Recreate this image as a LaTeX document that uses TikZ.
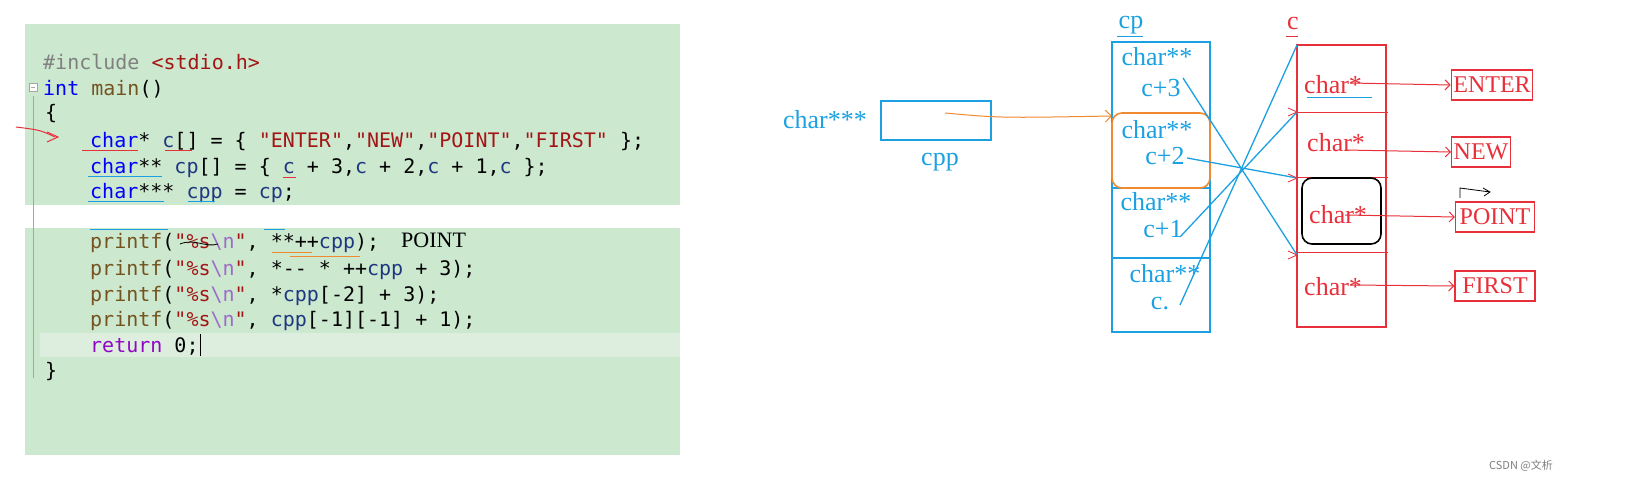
\documentclass[tikz,border=0pt]{standalone}
\usetikzlibrary{arrows.meta,calc}
\usepackage{fontspec}
\newfontfamily\code{DejaVu Sans Mono}
\newfontfamily\hand{Liberation Serif}
\newfontfamily\cjk{Noto Sans CJK SC}
\definecolor{gbg}{HTML}{CCE8CF}
\definecolor{ghl}{HTML}{DDEEDF}
\definecolor{kw}{HTML}{0000FF}
\definecolor{str}{HTML}{A31515}
\definecolor{idn}{HTML}{1F377F}
\definecolor{fn}{HTML}{74531F}
\definecolor{pp}{HTML}{808080}
\definecolor{esc}{HTML}{9E6BC9}
\definecolor{ret}{HTML}{8F08C4}
\definecolor{bl}{HTML}{1BA1E2}
\definecolor{rd}{HTML}{E8303A}
\definecolor{og}{HTML}{F08A30}
\begin{document}
\begin{tikzpicture}[x=1pt,y=-1pt,
  cl/.style={anchor=base west,inner sep=0pt,font=\code\fontsize{20}{20}\selectfont},
  hb/.style={inner sep=0pt,text=bl,font=\hand\fontsize{26}{26}\selectfont},
  hr/.style={inner sep=0pt,text=rd,font=\hand\fontsize{26}{26}\selectfont},
  bline/.style={draw=bl,line width=1.6pt},
  rline/.style={draw=rd,line width=1.2pt},
  wbox/.style={draw=rd,line width=1.3pt,inner sep=2pt,minimum height=30pt,text=rd,font=\hand\fontsize{24}{24}\selectfont},
  rarr/.style={draw=rd,line width=1pt,-{Straight Barb[length=5pt]}}]
\useasboundingbox (0,0) rectangle (1627,497);
\fill[white] (0,0) rectangle (1627,497);
% code panel
\fill[gbg] (25,24) rectangle (680,205);
\fill[gbg] (25,228) rectangle (680,455);
\fill[ghl] (40,333) rectangle (680,357);
\draw[gray!70] (33,96) -- (33,378);
\draw[gray!70,fill=white] (29,83) rectangle (37,91);
\draw[gray!70] (31,87) -- (35,87);
\node[cl] (l1) at (43,70) {\textcolor{pp}{\#include} \textcolor{str}{<stdio.h>}};
\node[cl] (l2) at (43,96) {\textcolor{kw}{int} \textcolor{fn}{main}()};
\node[cl] (l3) at (45,120) {\{};
\node[cl] (l4) at (90,148) {\textcolor{kw}{char}* \textcolor{idn}{c}[] = \{ \textcolor{str}{"ENTER"},\textcolor{str}{"NEW"},\textcolor{str}{"POINT"},\textcolor{str}{"FIRST"} \};};
\node[cl] (l5) at (90,174) {\textcolor{kw}{char}** \textcolor{idn}{cp}[] = \{ \textcolor{idn}{c} + 3,\textcolor{idn}{c} + 2,\textcolor{idn}{c} + 1,\textcolor{idn}{c} \};};
\node[cl] (l6) at (90,199) {\textcolor{kw}{char}*** \textcolor{idn}{cpp} = \textcolor{idn}{cp};};
\node[cl] (l7) at (90,248) {\textcolor{fn}{printf}(\textcolor{str}{"\%s}\textcolor{esc}{\textbackslash n}\textcolor{str}{"}, **++\textcolor{idn}{cpp});};
\node[cl] (l8) at (90,275) {\textcolor{fn}{printf}(\textcolor{str}{"\%s}\textcolor{esc}{\textbackslash n}\textcolor{str}{"}, *-- * ++\textcolor{idn}{cpp} + 3);};
\node[cl] (l9) at (90,301) {\textcolor{fn}{printf}(\textcolor{str}{"\%s}\textcolor{esc}{\textbackslash n}\textcolor{str}{"}, *\textcolor{idn}{cpp}[-2] + 3);};
\node[cl] (l10) at (90,326) {\textcolor{fn}{printf}(\textcolor{str}{"\%s}\textcolor{esc}{\textbackslash n}\textcolor{str}{"}, \textcolor{idn}{cpp}[-1][-1] + 1);};
\node[cl] (l11) at (90,352) {\textcolor{ret}{return} 0;};
\draw (200,334) -- (200,356);
\node[cl] (l12) at (45,377) {\}};
\node[anchor=base west,inner sep=0pt,font=\hand\fontsize{22}{22}\selectfont] (pt) at (401,247) {POINT};
% annotations on code
\draw[rd,line width=1pt] (82,151) -- (138,151) (165,151) -- (192,151);
\draw[rd,line width=1pt] (16,127) .. controls (40,130) .. (55,137);
\draw[rd,line width=1pt] (47,132) -- (58,137) -- (47,142);
\draw[bl,line width=1pt] (88,177) -- (162,177) (88,202) -- (164,202) (188,202) -- (215,202);
\draw[rd,line width=1pt] (283,178) -- (296,178);
\draw[og,line width=1pt] (272,252) -- (312,252) (290,256) -- (360,256);
\draw[bl,line width=1pt] (90,229) -- (168,229) (264,229) -- (285,229);
\draw[line width=0.8pt] (180,244) .. controls (195,238) and (205,248) .. (218,244);
% cpp
\node[hb] (t3) at (825,120) {char***};
\node[draw=bl,line width=1.4pt,minimum width=110pt,minimum height=39pt,inner sep=0pt] (cppbox) at (936,120.5) {};
\node[hb] (cppl) at (940,162) {cpp};
\coordinate (cs) at (945,113);
\coordinate (ce) at (1112,116);
\draw[og,line width=1pt,-{Straight Barb[length=6pt]}] (cs) .. controls (1000,118) .. (ce);
% cp column
\node[hb] (cpl) at (1131,25) {cp};
\draw[bl,line width=1pt] (1117,37) -- (1143,37);
\draw[bline] (1112,42) rectangle (1210,332);
\draw[bline] (1112,188) -- (1210,188) (1112,258) -- (1210,258);
\draw[og,line width=1.6pt,rounded corners=10pt] (1112,113) rectangle (1210,188);
\node[hb] (a1) at (1157,57) {char**};
\node[hb] (b1) at (1161,88) {c+3};
\node[hb] (a2) at (1157,130) {char**};
\node[hb] (b2) at (1165,156) {c+2};
\node[hb] (a3) at (1156,202) {char**};
\node[hb] (b3) at (1163,229) {c+1};
\node[hb] (a4) at (1165,274) {char**};
\node[hb] (b4) at (1160,304) {c.};
% c column
\node[hr] (cl) at (1293,24) {c};
\draw[rd,line width=1pt] (1286,37) -- (1298,37);
\draw[rline] (1297,45) rectangle (1386,327);
\draw[rd,line width=0.8pt] (1297,112) -- (1388,112) (1297,177) -- (1388,177) (1297,252) -- (1388,252);
\draw[line width=1.6pt,rounded corners=10pt] (1302,178) rectangle (1381,244);
\node[hr,anchor=west] (s1) at (1304,85) {char*};
\node[hr,anchor=west] (s2) at (1307,143) {char*};
\node[hr,anchor=west] (s3) at (1309,215) {char*};
\node[hr,anchor=west] (s4) at (1304,287) {char*};
\draw[bl,line width=1pt] (1307,98) -- (1372,98);
\node[wbox,minimum width=81pt] (e1) at (1492,85) {ENTER};
\node[wbox,minimum width=58pt] (e2) at (1481,152) {NEW};
\node[wbox,minimum width=79pt] (e3) at (1495,217) {POINT};
\node[wbox,minimum width=80pt] (e4) at (1495,286) {FIRST};
\draw[rarr] (1350,83) -- (e1.west);
\draw[rarr] (1345,150) -- (e2.west);
\draw[rarr] (1345,215) -- (e3.west);
\draw[rarr] (1350,285) -- (e4.west);
\draw[line width=0.8pt] (1460,198) -- (1460,188) -- (1490,192) (1483,188) -- (1490,192) -- (1484,196);
% crossing lines
\coordinate (p1) at (1297,45);
\coordinate (p2) at (1297,112);
\coordinate (p3) at (1297,178);
\coordinate (p4) at (1297,255);
\draw[bl,line width=1.3pt] (1183,78) -- (p4);
\draw[bl,line width=1.3pt] (1187,158) -- (p3);
\draw[bl,line width=1.3pt] (1180,237) -- (p2);
\draw[bl,line width=1.3pt] (1180,305) -- (p1);
\foreach \p in {p2,p3,p4}{\draw[rd,line width=0.8pt] ($(\p)+(-9,-4)$) -- (\p) -- ($(\p)+(-9,4)$);}
% watermark
\node[anchor=base east,inner sep=0pt,text=gray,font=\cjk\fontsize{11}{11}\selectfont] (wm) at (1553,469) {CSDN @文析};
\end{tikzpicture}
\end{document}
